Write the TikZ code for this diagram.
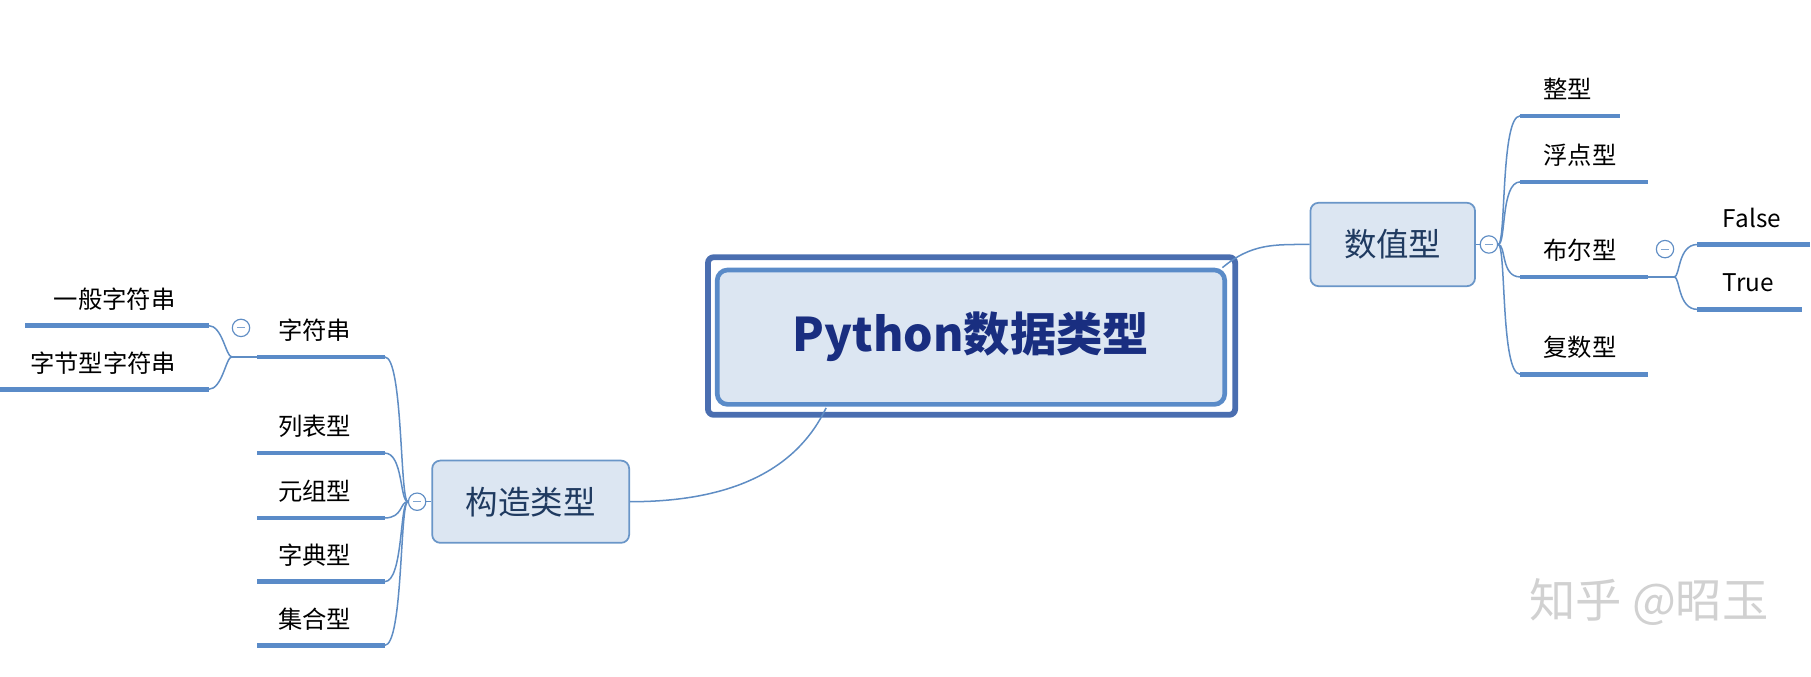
\documentclass[tikz,border=0pt]{standalone}
\usepackage{fontspec}
\setmainfont{Noto Sans CJK SC}
\begin{document}
\begin{tikzpicture}[x=1pt,y=-1pt,
  conn/.style={draw=linkc,line width=1.3pt},
  ul/.style={draw=ulc,line width=4pt},
  lbl/.style={font=\fontsize{21}{25}\selectfont,text=black,inner sep=0},
  mbox/.style={draw=boxb,fill=boxf,rounded corners=7pt,line width=1.5pt,font=\fontsize{28}{33}\selectfont,text=titc},
  minus/.style={circle,draw=linkc,line width=1pt,minimum size=15pt,inner sep=0,fill=white,
    path picture={\draw[linkc!80,line width=1pt] ([xshift=-3.5pt]path picture bounding box.center) -- ([xshift=3.5pt]path picture bounding box.center);}}]
\definecolor{linkc}{HTML}{5F8DC4}
\definecolor{ulc}{HTML}{5A8BC8}
\definecolor{boxb}{HTML}{6A96C8}
\definecolor{boxf}{HTML}{DCE6F2}
\definecolor{titc}{HTML}{1F3A60}
\definecolor{outb}{HTML}{4A6EB0}
\useasboundingbox (0,0) rectangle (1563,584);
% center
\node[draw=outb,line width=5pt,rounded corners=5pt,minimum width=455pt,minimum height=136pt] (cout) at (838.5,290) {};
\node[draw=ulc,fill=boxf,line width=4pt,rounded corners=9pt,minimum width=438pt,minimum height=116pt,font=\fontsize{40}{46}\selectfont\bfseries,text=titc!80!blue] (c) at (838,291) {Python数据类型};
% numeric
\node[mbox,minimum width=142pt,minimum height=72pt] (num) at (1202,211) {数值型};
\draw[conn] (1055,231) .. controls (1080,210) and (1100,211) .. (num.west);
\node[minus] (m1) at (1285,211) {};
\draw[conn] (num.east) -- (m1);
\foreach \n/\t/\y/\e in {a/整型/100/1398,b/浮点型/157/1422,d/布尔型/239/1422,e/复数型/323/1422}{
  \coordinate (\n L) at (1312,\y);
  \coordinate (\n R) at (\e,\y);
  \draw[ul] (\n L) -- (\n R);
  \node[lbl,anchor=west] (\n T) at (1332,\y-23) {\t};
  \draw[conn] (m1.east) .. controls (1300,211) and (1295,\y) .. (\n L);
}
\node[minus] (m2) at (1437,215) {};
\coordinate (bj) at (1445,239);
\draw[conn] (dR) -- (bj);
\foreach \n/\t/\y/\e/\tx in {f/False/211/1562/1512,g/True/267/1555/1509}{
  \coordinate (\n L) at (1465,\y);
  \coordinate (\n R) at (\e,\y);
  \draw[ul] (\n L) -- (\n R);
  \node[lbl] (\n T) at (\tx,\y-23) {\t};
  \draw[conn] (bj) .. controls (1450,239) and (1448,\y) .. (\n L);
}
% structured
\node[mbox,minimum width=170pt,minimum height=71pt] (st) at (458,433) {构造类型};
\draw[conn] (st.east) .. controls (640,433) and (690,400) .. (713,352);
\node[minus] (m3) at (360,433) {};
\draw[conn] (st.west) -- (m3);
\foreach \n/\t/\y in {s/字符串/308,l/列表型/391,u/元组型/447,k/字典型/502,j/集合型/557}{
  \coordinate (\n L) at (222,\y);
  \coordinate (\n R) at (332,\y);
  \draw[ul] (\n L) -- (\n R);
  \node[lbl,anchor=west] (\n T) at (240,\y-23) {\t};
  \draw[conn] (m3.west) .. controls (345,433) and (348,\y) .. (\n R);
}
\node[minus] (m4) at (208,283) {};
\coordinate (sj) at (200,308);
\draw[conn] (sL) -- (sj);
\foreach \n/\t/\y/\s/\tx in {p/一般字符串/281/22/99,q/字节型字符串/336/0/89}{
  \coordinate (\n L) at (\s,\y);
  \coordinate (\n R) at (180,\y);
  \draw[ul] (\n L) -- (\n R);
  \node[lbl] (\n T) at (\tx,\y-23) {\t};
  \draw[conn] (sj) .. controls (195,308) and (192,\y) .. (\n R);
}
\node[text=black!18,font=\fontsize{40}{46}\selectfont,anchor=east] (wm) at (1530,520) {知乎 @昭玉};
\end{tikzpicture}
\end{document}
